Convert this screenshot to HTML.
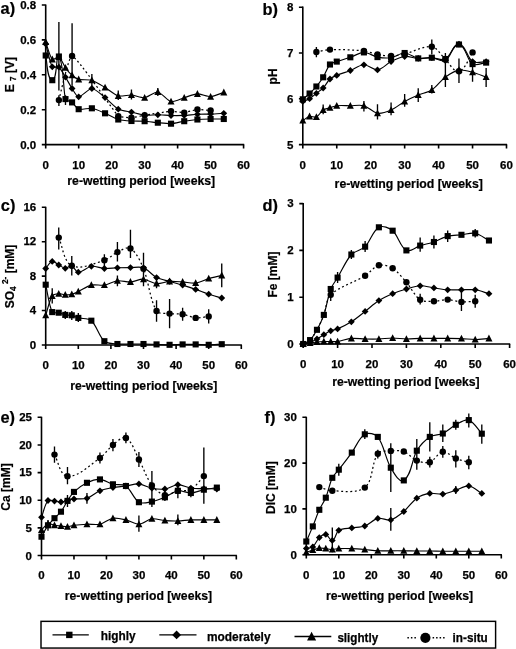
<!DOCTYPE html>
<html lang="en"><head><meta charset="utf-8"><title>Re-wetting period time series (panels a-f)</title>
<style>html,body{margin:0;padding:0;background:#fff}svg{display:block}text{fill:#000}</style>
</head><body>
<svg width="516" height="649" viewBox="0 0 516 649">
<rect x="0" y="0" width="516" height="649" fill="#fff"/>
<g>
<g stroke="#000" stroke-width="1.6" fill="none" stroke-linecap="butt">
<path d="M45.7 4.4V144.6H244.18"/>
<path d="M45.7 144.6v3.9M78.68 144.6v3.9M111.66 144.6v3.9M144.64 144.6v3.9M177.62 144.6v3.9M210.6 144.6v3.9M243.58 144.6v3.9M45.7 144.6h-3.9M45.7 109.7h-3.9M45.7 74.8h-3.9M45.7 39.9h-3.9M45.7 5h-3.9"/>
</g>
<g font-family='"Liberation Sans", Arial, Helvetica, sans-serif' font-weight="bold" font-size="11.5" fill="#000" stroke="#000" stroke-width="0.25">
<g text-anchor="middle">
<text x="45.7" y="168.55">0</text>
<text x="78.68" y="168.55">10</text>
<text x="111.66" y="168.55">20</text>
<text x="144.64" y="168.55">30</text>
<text x="177.62" y="168.55">40</text>
<text x="210.6" y="168.55">50</text>
<text x="243.58" y="168.55">60</text>
</g>
<g text-anchor="end">
<text x="36.2" y="148.6">0.0</text>
<text x="36.2" y="113.57">0.2</text>
<text x="36.2" y="78.55">0.4</text>
<text x="36.2" y="43.53">0.6</text>
<text x="36.2" y="8.5">0.8</text>
</g>
</g>
<text x="67.3" y="184.8" font-family='"Liberation Sans", Arial, Helvetica, sans-serif' font-weight="bold" font-size="12" stroke="#000" stroke-width="0.2" textLength="147.9" lengthAdjust="spacingAndGlyphs">re-wetting period [weeks]</text>
<text x="0.6" y="14.3" font-family='"Liberation Sans", Arial, Helvetica, sans-serif' font-weight="bold" font-size="16.4" stroke="#000" stroke-width="0.2">a)</text>
<text transform="translate(14 74.65) rotate(-90)" text-anchor="middle" font-family='"Liberation Sans", Arial, Helvetica, sans-serif' font-weight="bold" font-size="12" stroke="#000" stroke-width="0.2">E <tspan font-size="8.3" dy="1.5">7</tspan><tspan dy="-1.5"> [V]</tspan></text>
<path d="M58.89 22V90.4M58.89 95.3V106M72.08 23.2V85.6M65.49 95.3V105M91.87 74V86.5M118.26 90.4V100.1M131.45 89.5V99.5M157.83 88V96" stroke="#000" stroke-width="1.35" fill="none"/>
<path d="M58.89 100.1C59.84 96.92 68.88 55.03 72.08 55.9C77.36 57.33 114.47 112.25 118.26 116.2C118.92 116.89 130.49 117.84 131.45 117.8C132.42 117.76 143.69 115.36 144.64 115.2C146.54 114.88 169.11 111.33 171.02 111.2C171.98 111.14 183.26 112.67 184.22 112.6C185.19 112.53 196.43 109.48 197.41 109.4C198.36 109.32 209.65 110.42 210.6 110.5" stroke="#000" stroke-width="1.25" fill="none" stroke-dasharray="1.9 2.6"/>
<g fill="#000"><circle cx="58.89" cy="100.1" r="3.2"/><circle cx="72.08" cy="55.9" r="3.2"/><circle cx="118.26" cy="116.2" r="3.2"/><circle cx="131.45" cy="117.8" r="3.2"/><circle cx="144.64" cy="115.2" r="3.2"/><circle cx="171.02" cy="111.2" r="3.2"/><circle cx="184.22" cy="112.6" r="3.2"/><circle cx="197.41" cy="109.4" r="3.2"/><circle cx="210.6" cy="110.5" r="3.2"/></g>
<path d="M45.7 42C47.09 45.65 49.72 56.47 52.3 59.4C53.27 60.51 57.65 56.21 58.89 57C61.13 58.43 63.93 65.64 65.49 67.8C66.71 69.5 70.51 73.91 72.08 75.3C73.31 76.38 77.1 79.01 78.68 79.4C81.37 80.07 89.22 79.39 91.87 80.2C94.9 81.13 102.34 85.88 105.06 87.5C107.89 89.18 115.1 95 118.26 95.9C120.93 96.66 128.68 94.81 131.45 95C134.27 95.19 141.83 98.02 144.64 97.7C147.64 97.36 154.85 91.56 157.83 92C161.22 92.5 167.68 100.88 171.02 101.6C173.85 102.21 181.44 98.51 184.22 97.7C186.98 96.89 194.53 94.01 197.41 93.9C200.24 93.79 207.77 96.86 210.6 96.7C213.51 96.53 221.02 93.3 223.79 92.4" stroke="#000" stroke-width="1.15" fill="none" stroke-linejoin="round"/>
<g fill="#000"><path d="M45.7 38.2L49.2 45L42.2 45Z"/><path d="M52.3 55.6L55.8 62.4L48.8 62.4Z"/><path d="M58.89 53.2L62.39 60L55.39 60Z"/><path d="M65.49 64L68.99 70.8L61.99 70.8Z"/><path d="M72.08 71.5L75.58 78.3L68.58 78.3Z"/><path d="M78.68 75.6L82.18 82.4L75.18 82.4Z"/><path d="M91.87 76.4L95.37 83.2L88.37 83.2Z"/><path d="M105.06 83.7L108.56 90.5L101.56 90.5Z"/><path d="M118.26 92.1L121.76 98.9L114.76 98.9Z"/><path d="M131.45 91.2L134.95 98L127.95 98Z"/><path d="M144.64 93.9L148.14 100.7L141.14 100.7Z"/><path d="M157.83 88.2L161.33 95L154.33 95Z"/><path d="M171.02 97.8L174.52 104.6L167.52 104.6Z"/><path d="M184.22 93.9L187.72 100.7L180.72 100.7Z"/><path d="M197.41 90.1L200.91 96.9L193.91 96.9Z"/><path d="M210.6 92.9L214.1 99.7L207.1 99.7Z"/><path d="M223.79 88.6L227.29 95.4L220.29 95.4Z"/></g>
<path d="M45.7 43.9C47.09 48.71 49.83 62.45 52.3 66.8C52.98 68.01 57.8 66.34 58.89 67.2C60.87 68.76 64.16 75.06 65.49 77.2C66.93 79.54 70.55 86.22 72.08 88.5C73.33 90.35 76.45 96.8 78.68 96.8C81.95 96.8 88.6 88.4 91.87 88.5C95.24 88.6 102.42 95.52 105.06 97.6C107.97 99.88 115.02 107.42 118.26 109.2C120.74 110.57 128.68 111.47 131.45 112.1C134.22 112.73 141.81 114.91 144.64 115.2C147.4 115.48 155.06 114.77 157.83 114.8C160.61 114.83 168.25 115.44 171.02 115.5C173.79 115.56 181.45 115.53 184.22 115.4C186.99 115.27 194.63 114.44 197.41 114.3C200.18 114.16 207.83 114.2 210.6 114.1C213.37 113.99 221.02 113.47 223.79 113.3" stroke="#000" stroke-width="1.15" fill="none" stroke-linejoin="round"/>
<g fill="#000"><path d="M45.7 40.5L49.1 43.9L45.7 47.3L42.3 43.9Z"/><path d="M52.3 63.4L55.7 66.8L52.3 70.2L48.9 66.8Z"/><path d="M58.89 63.8L62.29 67.2L58.89 70.6L55.49 67.2Z"/><path d="M65.49 73.8L68.89 77.2L65.49 80.6L62.09 77.2Z"/><path d="M72.08 85.1L75.48 88.5L72.08 91.9L68.68 88.5Z"/><path d="M78.68 93.4L82.08 96.8L78.68 100.2L75.28 96.8Z"/><path d="M91.87 85.1L95.27 88.5L91.87 91.9L88.47 88.5Z"/><path d="M105.06 94.2L108.46 97.6L105.06 101L101.66 97.6Z"/><path d="M118.26 105.8L121.66 109.2L118.26 112.6L114.86 109.2Z"/><path d="M131.45 108.7L134.85 112.1L131.45 115.5L128.05 112.1Z"/><path d="M144.64 111.8L148.04 115.2L144.64 118.6L141.24 115.2Z"/><path d="M157.83 111.4L161.23 114.8L157.83 118.2L154.43 114.8Z"/><path d="M171.02 112.1L174.42 115.5L171.02 118.9L167.62 115.5Z"/><path d="M184.22 112L187.62 115.4L184.22 118.8L180.82 115.4Z"/><path d="M197.41 110.9L200.81 114.3L197.41 117.7L194.01 114.3Z"/><path d="M210.6 110.7L214 114.1L210.6 117.5L207.2 114.1Z"/><path d="M223.79 109.9L227.19 113.3L223.79 116.7L220.39 113.3Z"/></g>
<path d="M45.7 55.5C47.09 60.69 46.94 79.79 52.3 80.2C57.45 80.59 55.94 52.26 58.89 56.5C64.07 63.92 62.99 90.4 65.49 99.1C65.92 100.59 70.85 101.46 72.08 102.4C73.66 103.61 76.77 108.63 78.68 109.2C81.34 109.99 89.13 107.87 91.87 108.3C94.8 108.75 102.34 112.14 105.06 113.3C107.88 114.5 115.32 118.64 118.26 119.5C120.93 120.28 128.67 120.82 131.45 121C134.21 121.18 141.88 121.02 144.64 121.2C147.42 121.38 155.06 122.44 157.83 122.7C160.6 122.96 168.25 123.86 171.02 123.7C173.84 123.54 181.43 121.64 184.22 121.2C186.97 120.76 194.62 119.73 197.41 119.5C200.17 119.27 207.83 119.05 210.6 119C213.37 118.95 221.02 119 223.79 119" stroke="#000" stroke-width="1.15" fill="none" stroke-linejoin="round"/>
<g fill="#000"><rect x="42.65" y="52.45" width="6.1" height="6.1"/><rect x="49.25" y="77.15" width="6.1" height="6.1"/><rect x="55.84" y="53.45" width="6.1" height="6.1"/><rect x="62.44" y="96.05" width="6.1" height="6.1"/><rect x="69.03" y="99.35" width="6.1" height="6.1"/><rect x="75.63" y="106.15" width="6.1" height="6.1"/><rect x="88.82" y="105.25" width="6.1" height="6.1"/><rect x="102.01" y="110.25" width="6.1" height="6.1"/><rect x="115.21" y="116.45" width="6.1" height="6.1"/><rect x="128.4" y="117.95" width="6.1" height="6.1"/><rect x="141.59" y="118.15" width="6.1" height="6.1"/><rect x="154.78" y="119.65" width="6.1" height="6.1"/><rect x="167.97" y="120.65" width="6.1" height="6.1"/><rect x="181.17" y="118.15" width="6.1" height="6.1"/><rect x="194.36" y="116.45" width="6.1" height="6.1"/><rect x="207.55" y="115.95" width="6.1" height="6.1"/><rect x="220.74" y="115.95" width="6.1" height="6.1"/></g>
</g>
<g>
<g stroke="#000" stroke-width="1.6" fill="none" stroke-linecap="butt">
<path d="M302.8 6.6V144.6H507.1"/>
<path d="M302.8 144.6v3.9M336.75 144.6v3.9M370.7 144.6v3.9M404.65 144.6v3.9M438.6 144.6v3.9M472.55 144.6v3.9M506.5 144.6v3.9M302.8 144.6h-3.9M302.8 98.8h-3.9M302.8 53h-3.9M302.8 7.2h-3.9"/>
</g>
<g font-family='"Liberation Sans", Arial, Helvetica, sans-serif' font-weight="bold" font-size="11.5" fill="#000" stroke="#000" stroke-width="0.25">
<g text-anchor="middle">
<text x="302.8" y="168.55">0</text>
<text x="336.75" y="168.55">10</text>
<text x="370.7" y="168.55">20</text>
<text x="404.65" y="168.55">30</text>
<text x="438.6" y="168.55">40</text>
<text x="472.55" y="168.55">50</text>
<text x="506.5" y="168.55">60</text>
</g>
<g text-anchor="end">
<text x="293.3" y="148.6">5</text>
<text x="293.3" y="102.63">6</text>
<text x="293.3" y="56.67">7</text>
<text x="293.3" y="10.7">8</text>
</g>
</g>
<text x="334.6" y="187.7" font-family='"Liberation Sans", Arial, Helvetica, sans-serif' font-weight="bold" font-size="12" stroke="#000" stroke-width="0.2" textLength="148.3" lengthAdjust="spacingAndGlyphs">re-wetting period [weeks]</text>
<text x="262.6" y="14.5" font-family='"Liberation Sans", Arial, Helvetica, sans-serif' font-weight="bold" font-size="16.4" stroke="#000" stroke-width="0.2">b)</text>
<text transform="translate(276.5 76.4) rotate(-90)" text-anchor="middle" font-family='"Liberation Sans", Arial, Helvetica, sans-serif' font-weight="bold" font-size="12" stroke="#000" stroke-width="0.2">pH</text>
<path d="M316.38 47V57.3M323.17 104.6V114.2M363.91 101V111.4M377.49 104.2V119.5M391.07 102.5V115.3M404.65 94V106.8M418.23 88.2V102M431.81 85V93.5M445.39 68V87M472.55 62.6V81.8M486.13 68V87M431.81 39.6V54M458.97 58.4V83M445.39 53V70" stroke="#000" stroke-width="1.35" fill="none"/>
<path d="M316.38 52C320.45 51.28 325.82 49.7 329.96 49.6C340.15 49.36 353.77 49.85 363.91 50.9C368.1 51.33 373.35 53.72 377.49 54.5C381.52 55.26 386.97 56.08 391.07 56C395.19 55.92 400.64 54.92 404.65 54C412.88 52.12 423.45 45.57 431.81 46.7C437.36 47.45 441.23 55.75 445.39 59.5C449.38 63.1 453.77 72.56 458.97 71.2C465.7 69.44 468.48 58.04 472.55 52.4" stroke="#000" stroke-width="1.25" fill="none" stroke-dasharray="1.9 2.6"/>
<g fill="#000"><circle cx="316.38" cy="52" r="3.2"/><circle cx="329.96" cy="49.6" r="3.2"/><circle cx="363.91" cy="50.9" r="3.2"/><circle cx="377.49" cy="54.5" r="3.2"/><circle cx="391.07" cy="56" r="3.2"/><circle cx="404.65" cy="54" r="3.2"/><circle cx="431.81" cy="46.7" r="3.2"/><circle cx="445.39" cy="59.5" r="3.2"/><circle cx="458.97" cy="71.2" r="3.2"/><circle cx="472.55" cy="52.4" r="3.2"/></g>
<path d="M302.8 120.6C304.84 119.34 307.27 117.01 309.59 116.4C311.57 115.88 314.53 117.87 316.38 117C319.03 115.75 320.75 111.64 323.17 110C324.94 108.8 327.92 108.45 329.96 107.8C331.99 107.16 334.63 105.92 336.75 105.7C340.8 105.28 346.26 105.7 350.33 105.7C354.4 105.7 359.98 104.62 363.91 105.7C368.4 106.94 372.89 112.47 377.49 113.2C381.62 113.85 387.23 111.66 391.07 110C395.48 108.1 400.44 103.82 404.65 101.5C408.6 99.32 414.07 96.76 418.23 95C422.23 93.31 428.19 92.39 431.81 90C436.5 86.91 440.86 80.42 445.39 77.1C449.09 74.39 454.46 70.91 458.97 70.1C463.03 69.37 468.56 71.17 472.55 72.2C476.74 73.28 482.06 75.63 486.13 77.1" stroke="#000" stroke-width="1.15" fill="none" stroke-linejoin="round"/>
<g fill="#000"><path d="M302.8 116.8L306.3 123.6L299.3 123.6Z"/><path d="M309.59 112.6L313.09 119.4L306.09 119.4Z"/><path d="M316.38 113.2L319.88 120L312.88 120Z"/><path d="M323.17 106.2L326.67 113L319.67 113Z"/><path d="M329.96 104L333.46 110.8L326.46 110.8Z"/><path d="M336.75 101.9L340.25 108.7L333.25 108.7Z"/><path d="M350.33 101.9L353.83 108.7L346.83 108.7Z"/><path d="M363.91 101.9L367.41 108.7L360.41 108.7Z"/><path d="M377.49 109.4L380.99 116.2L373.99 116.2Z"/><path d="M391.07 106.2L394.57 113L387.57 113Z"/><path d="M404.65 97.7L408.15 104.5L401.15 104.5Z"/><path d="M418.23 91.2L421.73 98L414.73 98Z"/><path d="M431.81 86.2L435.31 93L428.31 93Z"/><path d="M445.39 73.3L448.89 80.1L441.89 80.1Z"/><path d="M458.97 66.3L462.47 73.1L455.47 73.1Z"/><path d="M472.55 68.4L476.05 75.2L469.05 75.2Z"/><path d="M486.13 73.3L489.63 80.1L482.63 80.1Z"/></g>
<path d="M302.8 101.4C304.84 100.59 307.71 99.82 309.59 98.7C311.83 97.37 314.34 94.91 316.38 93.3C318.41 91.7 321.39 89.87 323.17 88C325.5 85.55 327.48 81.3 329.96 79C331.65 77.43 334.62 76.29 336.75 75.4C340.75 73.73 346.3 72.07 350.33 70.5C354.45 68.89 359.49 64.9 363.91 64.8C368.26 64.7 373.17 70.41 377.49 69.9C382.23 69.34 386.79 63.71 391.07 61.6C394.97 59.67 400.33 57.01 404.65 56.5C408.74 56.02 414.12 58.22 418.23 58.4C422.31 58.58 427.74 57.39 431.81 57.7C435.96 58.02 441.67 62.36 445.39 60.5C451.1 57.64 452.59 43.84 458.97 44.1C465.61 44.37 466.96 58 472.55 61.6C475.97 63.81 482.06 61.6 486.13 61.6" stroke="#000" stroke-width="1.15" fill="none" stroke-linejoin="round"/>
<g fill="#000"><path d="M302.8 98L306.2 101.4L302.8 104.8L299.4 101.4Z"/><path d="M309.59 95.3L312.99 98.7L309.59 102.1L306.19 98.7Z"/><path d="M316.38 89.9L319.78 93.3L316.38 96.7L312.98 93.3Z"/><path d="M323.17 84.6L326.57 88L323.17 91.4L319.77 88Z"/><path d="M329.96 75.6L333.36 79L329.96 82.4L326.56 79Z"/><path d="M336.75 72L340.15 75.4L336.75 78.8L333.35 75.4Z"/><path d="M350.33 67.1L353.73 70.5L350.33 73.9L346.93 70.5Z"/><path d="M363.91 61.4L367.31 64.8L363.91 68.2L360.51 64.8Z"/><path d="M377.49 66.5L380.89 69.9L377.49 73.3L374.09 69.9Z"/><path d="M391.07 58.2L394.47 61.6L391.07 65L387.67 61.6Z"/><path d="M404.65 53.1L408.05 56.5L404.65 59.9L401.25 56.5Z"/><path d="M418.23 55L421.63 58.4L418.23 61.8L414.83 58.4Z"/><path d="M431.81 54.3L435.21 57.7L431.81 61.1L428.41 57.7Z"/><path d="M445.39 57.1L448.79 60.5L445.39 63.9L441.99 60.5Z"/><path d="M458.97 40.7L462.37 44.1L458.97 47.5L455.57 44.1Z"/><path d="M472.55 58.2L475.95 61.6L472.55 65L469.15 61.6Z"/><path d="M486.13 58.2L489.53 61.6L486.13 65L482.73 61.6Z"/></g>
<path d="M302.8 99.3C304.84 97.56 307.64 95.34 309.59 93.5C311.72 91.49 314.5 88.74 316.38 86.5C318.58 83.87 321.37 80.22 323.17 77.3C325.45 73.6 327.12 67.79 329.96 64.5C331.41 62.82 334.66 62.34 336.75 61.6C340.78 60.18 346.28 58.67 350.33 57.3C354.43 55.91 359.58 52.43 363.91 52.4C368.22 52.37 373.26 56.27 377.49 57.1C381.49 57.88 387.04 58.31 391.07 57.7C395.33 57.06 400.34 52.89 404.65 53C409.03 53.11 413.91 57.65 418.23 58.4C422.25 59.1 427.73 57.61 431.81 57.7C435.9 57.79 441.71 60.79 445.39 59C450.75 56.39 453.11 43.4 458.97 44.5C466 45.82 466.6 60.13 472.55 64.1C475.96 66.37 482.06 63.05 486.13 62.6" stroke="#000" stroke-width="1.15" fill="none" stroke-linejoin="round"/>
<g fill="#000"><rect x="299.75" y="96.25" width="6.1" height="6.1"/><rect x="306.54" y="90.45" width="6.1" height="6.1"/><rect x="313.33" y="83.45" width="6.1" height="6.1"/><rect x="320.12" y="74.25" width="6.1" height="6.1"/><rect x="326.91" y="61.45" width="6.1" height="6.1"/><rect x="333.7" y="58.55" width="6.1" height="6.1"/><rect x="347.28" y="54.25" width="6.1" height="6.1"/><rect x="360.86" y="49.35" width="6.1" height="6.1"/><rect x="374.44" y="54.05" width="6.1" height="6.1"/><rect x="388.02" y="54.65" width="6.1" height="6.1"/><rect x="401.6" y="49.95" width="6.1" height="6.1"/><rect x="415.18" y="55.35" width="6.1" height="6.1"/><rect x="428.76" y="54.65" width="6.1" height="6.1"/><rect x="442.34" y="55.95" width="6.1" height="6.1"/><rect x="455.92" y="41.45" width="6.1" height="6.1"/><rect x="469.5" y="61.05" width="6.1" height="6.1"/><rect x="483.08" y="59.55" width="6.1" height="6.1"/></g>
</g>
<g>
<g stroke="#000" stroke-width="1.6" fill="none" stroke-linecap="butt">
<path d="M45.7 206.7V345H241.9"/>
<path d="M45.7 345v3.9M78.3 345v3.9M110.9 345v3.9M143.5 345v3.9M176.1 345v3.9M208.7 345v3.9M241.3 345v3.9M45.7 345h-3.9M45.7 310.57h-3.9M45.7 276.15h-3.9M45.7 241.73h-3.9M45.7 207.3h-3.9"/>
</g>
<g font-family='"Liberation Sans", Arial, Helvetica, sans-serif' font-weight="bold" font-size="11.5" fill="#000" stroke="#000" stroke-width="0.25">
<g text-anchor="middle">
<text x="45.7" y="368.95">0</text>
<text x="78.3" y="368.95">10</text>
<text x="110.9" y="368.95">20</text>
<text x="143.5" y="368.95">30</text>
<text x="176.1" y="368.95">40</text>
<text x="208.7" y="368.95">50</text>
<text x="241.3" y="368.95">60</text>
</g>
<g text-anchor="end">
<text x="36.2" y="349">0</text>
<text x="36.2" y="314.45">4</text>
<text x="36.2" y="279.9">8</text>
<text x="36.2" y="245.35">12</text>
<text x="36.2" y="210.8">16</text>
</g>
</g>
<text x="70.2" y="390.2" font-family='"Liberation Sans", Arial, Helvetica, sans-serif' font-weight="bold" font-size="12" stroke="#000" stroke-width="0.2" textLength="147.2" lengthAdjust="spacingAndGlyphs">re-wetting period [weeks]</text>
<text x="0.8" y="210.9" font-family='"Liberation Sans", Arial, Helvetica, sans-serif' font-weight="bold" font-size="16.4" stroke="#000" stroke-width="0.2">c)</text>
<text transform="translate(14.3 276.5) rotate(-90)" text-anchor="middle" font-family='"Liberation Sans", Arial, Helvetica, sans-serif' font-weight="bold" font-size="12" stroke="#000" stroke-width="0.2">SO<tspan font-size="8.3" dy="1.5">4</tspan><tspan font-size="8.3" dy="-7.5"> 2-</tspan><tspan dy="6"> [mM]</tspan></text>
<path d="M58.74 227.5V249.5M71.78 256V275.4M104.38 254.3V266.8M117.42 242V261.4M130.46 229.7V258.1M143.5 252.7V284M156.54 300.2V321.8M169.58 299.1V328.2M182.62 307.8V320.7M208.7 309.3V323.5M52.22 288.3V303.4M117.42 275.4V286.2M143.5 274.3V286.2M221.74 263.5V287.3M156.54 278.6V288.3M65.26 311V319M71.78 311V320M78.3 313V322" stroke="#000" stroke-width="1.35" fill="none"/>
<path d="M58.74 237.6C62.65 246.03 63.46 261.56 71.78 265.7C80.66 270.11 94.88 263.13 104.38 260.3C108.81 258.98 113.22 254.02 117.42 252.1C121.12 250.41 127.03 246.22 130.46 248.4C136.57 252.29 140.72 262.02 143.5 268.7C148.61 280.96 149.87 299.52 156.54 311C158.54 314.45 165.62 313.11 169.58 313.6C173.47 314.08 178.76 313.56 182.62 314.2C186.63 314.86 191.61 317.56 195.66 317.9C199.58 318.23 204.79 316.85 208.7 316.4" stroke="#000" stroke-width="1.25" fill="none" stroke-dasharray="1.9 2.6"/>
<g fill="#000"><circle cx="58.74" cy="237.6" r="3.2"/><circle cx="71.78" cy="265.7" r="3.2"/><circle cx="104.38" cy="260.3" r="3.2"/><circle cx="117.42" cy="252.1" r="3.2"/><circle cx="130.46" cy="248.4" r="3.2"/><circle cx="143.5" cy="268.7" r="3.2"/><circle cx="156.54" cy="311" r="3.2"/><circle cx="169.58" cy="313.6" r="3.2"/><circle cx="182.62" cy="314.2" r="3.2"/><circle cx="195.66" cy="317.9" r="3.2"/><circle cx="208.7" cy="316.4" r="3.2"/></g>
<path d="M45.7 315.3C47.66 309.48 49.05 301.16 52.22 295.9C53.29 294.13 56.68 293.87 58.74 293.7C60.72 293.53 63.28 294.72 65.26 294.8C67.22 294.88 69.87 294.67 71.78 294.2C73.83 293.7 76.39 292.49 78.3 291.6C82.26 289.76 87.1 286.16 91.34 285.1C95.14 284.15 100.52 285.74 104.38 285.1C108.44 284.43 113.33 281.3 117.42 280.8C121.32 280.32 126.54 282.14 130.46 281.9C134.45 281.66 139.51 278.94 143.5 279.2C147.62 279.47 152.43 283.25 156.54 283.6C160.49 283.93 165.62 281.66 169.58 281.4C173.49 281.15 178.71 281.66 182.62 281.9C186.54 282.14 191.77 283.49 195.66 283C199.76 282.48 204.74 279.76 208.7 278.6C212.57 277.47 217.83 276.36 221.74 275.4" stroke="#000" stroke-width="1.15" fill="none" stroke-linejoin="round"/>
<g fill="#000"><path d="M45.7 311.5L49.2 318.3L42.2 318.3Z"/><path d="M52.22 292.1L55.72 298.9L48.72 298.9Z"/><path d="M58.74 289.9L62.24 296.7L55.24 296.7Z"/><path d="M65.26 291L68.76 297.8L61.76 297.8Z"/><path d="M71.78 290.4L75.28 297.2L68.28 297.2Z"/><path d="M78.3 287.8L81.8 294.6L74.8 294.6Z"/><path d="M91.34 281.3L94.84 288.1L87.84 288.1Z"/><path d="M104.38 281.3L107.88 288.1L100.88 288.1Z"/><path d="M117.42 277L120.92 283.8L113.92 283.8Z"/><path d="M130.46 278.1L133.96 284.9L126.96 284.9Z"/><path d="M143.5 275.4L147 282.2L140 282.2Z"/><path d="M156.54 279.8L160.04 286.6L153.04 286.6Z"/><path d="M169.58 277.6L173.08 284.4L166.08 284.4Z"/><path d="M182.62 278.1L186.12 284.9L179.12 284.9Z"/><path d="M195.66 279.2L199.16 286L192.16 286Z"/><path d="M208.7 274.8L212.2 281.6L205.2 281.6Z"/><path d="M221.74 271.6L225.24 278.4L218.24 278.4Z"/></g>
<path d="M45.7 268.5C47.66 266.37 49.43 262.15 52.22 261.4C54.38 260.82 56.77 263.95 58.74 265C60.68 266.03 63.07 268.13 65.26 268.3C67.33 268.46 69.79 265.41 71.78 266C74.37 266.77 75.6 272.16 78.3 272.2C82.59 272.27 87.09 266.9 91.34 266.3C95.27 265.74 100.42 268.27 104.38 268.5C108.29 268.72 113.5 267.94 117.42 267.8C121.33 267.67 126.55 267.6 130.46 267.6C134.37 267.6 139.85 266.4 143.5 267.8C148.07 269.55 152.2 275.34 156.54 277.6C160.15 279.48 165.66 280.27 169.58 281.4C173.49 282.52 178.73 283.91 182.62 285.1C186.56 286.31 191.77 288.04 195.66 289.4C199.6 290.77 204.74 292.89 208.7 294.2C212.57 295.48 217.83 296.86 221.74 298" stroke="#000" stroke-width="1.15" fill="none" stroke-linejoin="round"/>
<g fill="#000"><path d="M45.7 265.1L49.1 268.5L45.7 271.9L42.3 268.5Z"/><path d="M52.22 258L55.62 261.4L52.22 264.8L48.82 261.4Z"/><path d="M58.74 261.6L62.14 265L58.74 268.4L55.34 265Z"/><path d="M65.26 264.9L68.66 268.3L65.26 271.7L61.86 268.3Z"/><path d="M71.78 262.6L75.18 266L71.78 269.4L68.38 266Z"/><path d="M78.3 268.8L81.7 272.2L78.3 275.6L74.9 272.2Z"/><path d="M91.34 262.9L94.74 266.3L91.34 269.7L87.94 266.3Z"/><path d="M104.38 265.1L107.78 268.5L104.38 271.9L100.98 268.5Z"/><path d="M117.42 264.4L120.82 267.8L117.42 271.2L114.02 267.8Z"/><path d="M130.46 264.2L133.86 267.6L130.46 271L127.06 267.6Z"/><path d="M143.5 264.4L146.9 267.8L143.5 271.2L140.1 267.8Z"/><path d="M156.54 274.2L159.94 277.6L156.54 281L153.14 277.6Z"/><path d="M169.58 278L172.98 281.4L169.58 284.8L166.18 281.4Z"/><path d="M182.62 281.7L186.02 285.1L182.62 288.5L179.22 285.1Z"/><path d="M195.66 286L199.06 289.4L195.66 292.8L192.26 289.4Z"/><path d="M208.7 290.8L212.1 294.2L208.7 297.6L205.3 294.2Z"/><path d="M221.74 294.6L225.14 298L221.74 301.4L218.34 298Z"/></g>
<path d="M45.7 284.7C47.66 292.92 48.65 304.44 52.22 312.1C53.05 313.88 56.82 312.29 58.74 312.7C60.76 313.13 63.24 314.5 65.26 314.9C67.18 315.28 69.87 314.86 71.78 315.3C73.83 315.77 76.27 317.34 78.3 317.9C82.16 318.96 88.36 318.03 91.34 320.7C96.78 325.56 98.94 336.34 104.38 341.2C107.36 343.87 113.44 343.57 117.42 344C121.31 344.42 126.55 344 130.46 344C134.37 344 139.59 343.94 143.5 344C147.41 344.06 152.63 344.28 156.54 344.4C160.45 344.52 165.67 344.8 169.58 344.8C173.49 344.8 178.71 344.46 182.62 344.4C186.53 344.34 191.75 344.34 195.66 344.4C199.57 344.46 204.79 344.83 208.7 344.8C212.62 344.77 217.83 344.38 221.74 344.2" stroke="#000" stroke-width="1.15" fill="none" stroke-linejoin="round"/>
<g fill="#000"><rect x="42.65" y="281.65" width="6.1" height="6.1"/><rect x="49.17" y="309.05" width="6.1" height="6.1"/><rect x="55.69" y="309.65" width="6.1" height="6.1"/><rect x="62.21" y="311.85" width="6.1" height="6.1"/><rect x="68.73" y="312.25" width="6.1" height="6.1"/><rect x="75.25" y="314.85" width="6.1" height="6.1"/><rect x="88.29" y="317.65" width="6.1" height="6.1"/><rect x="101.33" y="338.15" width="6.1" height="6.1"/><rect x="114.37" y="340.95" width="6.1" height="6.1"/><rect x="127.41" y="340.95" width="6.1" height="6.1"/><rect x="140.45" y="340.95" width="6.1" height="6.1"/><rect x="153.49" y="341.35" width="6.1" height="6.1"/><rect x="166.53" y="341.75" width="6.1" height="6.1"/><rect x="179.57" y="341.35" width="6.1" height="6.1"/><rect x="192.61" y="341.35" width="6.1" height="6.1"/><rect x="205.65" y="341.75" width="6.1" height="6.1"/><rect x="218.69" y="341.15" width="6.1" height="6.1"/></g>
</g>
<g>
<g stroke="#000" stroke-width="1.6" fill="none" stroke-linecap="butt">
<path d="M303.2 203V344H510.2"/>
<path d="M303.2 344v3.9M337.6 344v3.9M372 344v3.9M406.4 344v3.9M440.8 344v3.9M475.2 344v3.9M509.6 344v3.9M303.2 344h-3.9M303.2 297.2h-3.9M303.2 250.4h-3.9M303.2 203.6h-3.9"/>
</g>
<g font-family='"Liberation Sans", Arial, Helvetica, sans-serif' font-weight="bold" font-size="11.5" fill="#000" stroke="#000" stroke-width="0.25">
<g text-anchor="middle">
<text x="303.2" y="367.95">0</text>
<text x="337.6" y="367.95">10</text>
<text x="372" y="367.95">20</text>
<text x="406.4" y="367.95">30</text>
<text x="440.8" y="367.95">40</text>
<text x="475.2" y="367.95">50</text>
<text x="509.6" y="367.95">60</text>
</g>
<g text-anchor="end">
<text x="293.7" y="348">0</text>
<text x="293.7" y="301.03">1</text>
<text x="293.7" y="254.07">2</text>
<text x="293.7" y="207.1">3</text>
</g>
</g>
<text x="332.2" y="386.2" font-family='"Liberation Sans", Arial, Helvetica, sans-serif' font-weight="bold" font-size="12" stroke="#000" stroke-width="0.2" textLength="147.5" lengthAdjust="spacingAndGlyphs">re-wetting period [weeks]</text>
<text x="262.6" y="211.2" font-family='"Liberation Sans", Arial, Helvetica, sans-serif' font-weight="bold" font-size="16.4" stroke="#000" stroke-width="0.2">d)</text>
<text transform="translate(277.3 274.6) rotate(-90)" text-anchor="middle" font-family='"Liberation Sans", Arial, Helvetica, sans-serif' font-weight="bold" font-size="12" stroke="#000" stroke-width="0.2">Fe [mM]</text>
<path d="M420.16 237.6V251.7M433.92 235.5V248.4M447.68 230.5V242M475.2 229V237.6M420.16 293.7V304.5M461.44 289.4V311M475.2 294.8V307.8M330.72 288V301M337.6 272V283M351.36 250V259M365.12 241V252" stroke="#000" stroke-width="1.35" fill="none"/>
<path d="M303.2 344C305.26 342.83 308.43 341.8 310.08 340.1C312.67 337.43 315.18 333.06 316.96 329.8C319.32 325.48 322.04 319.48 323.84 314.9C326.17 308.97 326.09 299.18 330.72 294.8C339.28 286.69 355.07 281.96 365.12 275.8C369.55 273.09 373.87 266.67 378.88 265.3C382.96 264.19 389.05 266.08 392.64 268.3C397.65 271.39 402.53 277.87 406.4 282.3C410.79 287.33 414.66 296.01 420.16 299.8C423.58 302.16 429.77 301.33 433.92 301.3C438.08 301.27 443.52 299.51 447.68 299.6C451.86 299.69 457.26 301.64 461.44 301.9C465.56 302.15 471.07 301.48 475.2 301.3" stroke="#000" stroke-width="1.25" fill="none" stroke-dasharray="1.9 2.6"/>
<g fill="#000"><circle cx="303.2" cy="344" r="3.2"/><circle cx="330.72" cy="294.8" r="3.2"/><circle cx="365.12" cy="275.8" r="3.2"/><circle cx="378.88" cy="265.3" r="3.2"/><circle cx="392.64" cy="268.3" r="3.2"/><circle cx="406.4" cy="282.3" r="3.2"/><circle cx="420.16" cy="299.8" r="3.2"/><circle cx="433.92" cy="301.3" r="3.2"/><circle cx="447.68" cy="299.6" r="3.2"/><circle cx="461.44" cy="301.9" r="3.2"/><circle cx="475.2" cy="301.3" r="3.2"/></g>
<path d="M303.2 344C305.26 343.7 308.02 343.3 310.08 343C312.14 342.7 314.89 342.23 316.96 342C319.02 341.78 321.77 341.58 323.84 341.5C325.9 341.43 328.66 341.5 330.72 341.5C332.78 341.5 335.56 341.81 337.6 341.5C341.78 340.87 347.15 338.78 351.36 338.4C355.47 338.03 360.99 338.91 365.12 339C369.25 339.09 374.75 339.15 378.88 339C383.02 338.85 388.5 338 392.64 338C396.78 338 402.26 338.94 406.4 339C410.53 339.06 416.03 338.49 420.16 338.4C424.29 338.31 429.79 338.4 433.92 338.4C438.05 338.4 443.55 338.37 447.68 338.4C451.81 338.43 457.31 338.44 461.44 338.6C465.57 338.77 471.06 339.53 475.2 339.5C479.34 339.47 484.83 338.73 488.96 338.4" stroke="#000" stroke-width="1.15" fill="none" stroke-linejoin="round"/>
<g fill="#000"><path d="M303.2 340.2L306.7 347L299.7 347Z"/><path d="M310.08 339.2L313.58 346L306.58 346Z"/><path d="M316.96 338.2L320.46 345L313.46 345Z"/><path d="M323.84 337.7L327.34 344.5L320.34 344.5Z"/><path d="M330.72 337.7L334.22 344.5L327.22 344.5Z"/><path d="M337.6 337.7L341.1 344.5L334.1 344.5Z"/><path d="M351.36 334.6L354.86 341.4L347.86 341.4Z"/><path d="M365.12 335.2L368.62 342L361.62 342Z"/><path d="M378.88 335.2L382.38 342L375.38 342Z"/><path d="M392.64 334.2L396.14 341L389.14 341Z"/><path d="M406.4 335.2L409.9 342L402.9 342Z"/><path d="M420.16 334.6L423.66 341.4L416.66 341.4Z"/><path d="M433.92 334.6L437.42 341.4L430.42 341.4Z"/><path d="M447.68 334.6L451.18 341.4L444.18 341.4Z"/><path d="M461.44 334.8L464.94 341.6L457.94 341.6Z"/><path d="M475.2 335.7L478.7 342.5L471.7 342.5Z"/><path d="M488.96 334.6L492.46 341.4L485.46 341.4Z"/></g>
<path d="M303.2 344C305.26 343.49 308.08 343.03 310.08 342.3C312.23 341.52 314.96 340.11 316.96 339C319.09 337.82 321.75 335.95 323.84 334.7C325.88 333.49 328.53 331.72 330.72 330.8C332.69 329.97 335.64 329.76 337.6 328.9C341.86 327.04 347.44 324.29 351.36 321.8C355.73 319.02 361.02 314.56 365.12 311.4C369.28 308.2 374.47 303.44 378.88 300.6C382.76 298.1 388.38 295.49 392.64 293.7C396.66 292.01 402.21 290.2 406.4 289C410.47 287.83 415.93 285.97 420.16 285.8C424.33 285.63 429.79 287.3 433.92 287.9C438.04 288.5 443.52 289.51 447.68 289.8C451.8 290.08 457.31 289.8 461.44 289.8C465.57 289.8 471.11 289.22 475.2 289.8C479.45 290.4 484.83 292.53 488.96 293.7" stroke="#000" stroke-width="1.15" fill="none" stroke-linejoin="round"/>
<g fill="#000"><path d="M303.2 340.6L306.6 344L303.2 347.4L299.8 344Z"/><path d="M310.08 338.9L313.48 342.3L310.08 345.7L306.68 342.3Z"/><path d="M316.96 335.6L320.36 339L316.96 342.4L313.56 339Z"/><path d="M323.84 331.3L327.24 334.7L323.84 338.1L320.44 334.7Z"/><path d="M330.72 327.4L334.12 330.8L330.72 334.2L327.32 330.8Z"/><path d="M337.6 325.5L341 328.9L337.6 332.3L334.2 328.9Z"/><path d="M351.36 318.4L354.76 321.8L351.36 325.2L347.96 321.8Z"/><path d="M365.12 308L368.52 311.4L365.12 314.8L361.72 311.4Z"/><path d="M378.88 297.2L382.28 300.6L378.88 304L375.48 300.6Z"/><path d="M392.64 290.3L396.04 293.7L392.64 297.1L389.24 293.7Z"/><path d="M406.4 285.6L409.8 289L406.4 292.4L403 289Z"/><path d="M420.16 282.4L423.56 285.8L420.16 289.2L416.76 285.8Z"/><path d="M433.92 284.5L437.32 287.9L433.92 291.3L430.52 287.9Z"/><path d="M447.68 286.4L451.08 289.8L447.68 293.2L444.28 289.8Z"/><path d="M461.44 286.4L464.84 289.8L461.44 293.2L458.04 289.8Z"/><path d="M475.2 286.4L478.6 289.8L475.2 293.2L471.8 289.8Z"/><path d="M488.96 290.3L492.36 293.7L488.96 297.1L485.56 293.7Z"/></g>
<path d="M303.2 344C305.26 342.83 308.43 341.8 310.08 340.1C312.67 337.43 315.18 333.06 316.96 329.8C319.32 325.48 322.27 319.57 323.84 314.9C326.41 307.28 327.94 296.54 330.72 289C332.1 285.25 335.55 281.03 337.6 277.6C341.74 270.68 346 260.52 351.36 254.5C354.52 250.96 361.75 250.04 365.12 246.7C370.19 241.68 372.71 230.89 378.88 227.3C382.56 225.16 389.38 227.97 392.64 230.7C398.16 235.33 400.06 246.97 406.4 250.4C410.24 252.48 415.98 246.88 420.16 245.6C424.24 244.35 429.89 243.39 433.92 242C438.17 240.53 443.33 237.24 447.68 236.1C451.69 235.05 457.31 235.22 461.44 234.8C465.57 234.38 471.13 232.46 475.2 233.3C479.76 234.24 484.83 238.34 488.96 240.5" stroke="#000" stroke-width="1.15" fill="none" stroke-linejoin="round"/>
<g fill="#000"><rect x="300.15" y="340.95" width="6.1" height="6.1"/><rect x="307.03" y="337.05" width="6.1" height="6.1"/><rect x="313.91" y="326.75" width="6.1" height="6.1"/><rect x="320.79" y="311.85" width="6.1" height="6.1"/><rect x="327.67" y="285.95" width="6.1" height="6.1"/><rect x="334.55" y="274.55" width="6.1" height="6.1"/><rect x="348.31" y="251.45" width="6.1" height="6.1"/><rect x="362.07" y="243.65" width="6.1" height="6.1"/><rect x="375.83" y="224.25" width="6.1" height="6.1"/><rect x="389.59" y="227.65" width="6.1" height="6.1"/><rect x="403.35" y="247.35" width="6.1" height="6.1"/><rect x="417.11" y="242.55" width="6.1" height="6.1"/><rect x="430.87" y="238.95" width="6.1" height="6.1"/><rect x="444.63" y="233.05" width="6.1" height="6.1"/><rect x="458.39" y="231.75" width="6.1" height="6.1"/><rect x="472.15" y="230.25" width="6.1" height="6.1"/><rect x="485.91" y="237.45" width="6.1" height="6.1"/></g>
</g>
<g>
<g stroke="#000" stroke-width="1.6" fill="none" stroke-linecap="butt">
<path d="M41.5 416.7V555.5H236.92"/>
<path d="M41.5 555.5v3.9M73.97 555.5v3.9M106.44 555.5v3.9M138.91 555.5v3.9M171.38 555.5v3.9M203.85 555.5v3.9M236.32 555.5v3.9M41.5 555.5h-3.9M41.5 527.86h-3.9M41.5 500.22h-3.9M41.5 472.58h-3.9M41.5 444.94h-3.9M41.5 417.3h-3.9"/>
</g>
<g font-family='"Liberation Sans", Arial, Helvetica, sans-serif' font-weight="bold" font-size="11.5" fill="#000" stroke="#000" stroke-width="0.25">
<g text-anchor="middle">
<text x="41.5" y="579.45">0</text>
<text x="73.97" y="579.45">10</text>
<text x="106.44" y="579.45">20</text>
<text x="138.91" y="579.45">30</text>
<text x="171.38" y="579.45">40</text>
<text x="203.85" y="579.45">50</text>
<text x="236.32" y="579.45">60</text>
</g>
<g text-anchor="end">
<text x="32" y="559.5">0</text>
<text x="32" y="531.76">5</text>
<text x="32" y="504.02">10</text>
<text x="32" y="476.28">15</text>
<text x="32" y="448.54">20</text>
<text x="32" y="420.8">25</text>
</g>
</g>
<text x="64.8" y="600.2" font-family='"Liberation Sans", Arial, Helvetica, sans-serif' font-weight="bold" font-size="12" stroke="#000" stroke-width="0.2" textLength="147.3" lengthAdjust="spacingAndGlyphs">re-wetting period [weeks]</text>
<text x="0.5" y="423" font-family='"Liberation Sans", Arial, Helvetica, sans-serif' font-weight="bold" font-size="16.4" stroke="#000" stroke-width="0.2">e)</text>
<text transform="translate(9.6 487) rotate(-90)" text-anchor="middle" font-family='"Liberation Sans", Arial, Helvetica, sans-serif' font-weight="bold" font-size="12" stroke="#000" stroke-width="0.2">Ca [mM]</text>
<path d="M54.49 446.6V462.7M67.48 467V484.3M99.95 452.6V463.4M112.93 439V451.3M125.92 432.5V443.3M138.91 452V467M151.9 471V507M203.85 447.6V503.7M86.96 493V503.7M67.48 495V507M138.91 515.6V531.8M47.99 520V530.7M177.87 514.5V525.3M177.87 484.3V498.3M190.86 486.5V497.3M164.89 490V501" stroke="#000" stroke-width="1.35" fill="none"/>
<path d="M54.49 454.6C58.38 461.11 59.91 475.73 67.48 476.3C78.63 477.13 90.74 464.34 99.95 458C104.49 454.87 108.57 448.36 112.93 445C116.44 442.3 122.06 435.84 125.92 438C132.5 441.67 135.29 452.89 138.91 459.5C143.09 467.12 146.77 478.38 151.9 485.4C154.76 489.33 160.12 494.11 164.89 495.1C168.9 495.94 173.86 491.66 177.87 490.8C181.7 489.97 187.45 491.43 190.86 489.5C195.73 486.74 199.95 480.12 203.85 476.1" stroke="#000" stroke-width="1.25" fill="none" stroke-dasharray="1.9 2.6"/>
<g fill="#000"><circle cx="54.49" cy="454.6" r="3.2"/><circle cx="67.48" cy="476.3" r="3.2"/><circle cx="99.95" cy="458" r="3.2"/><circle cx="112.93" cy="445" r="3.2"/><circle cx="125.92" cy="438" r="3.2"/><circle cx="138.91" cy="459.5" r="3.2"/><circle cx="151.9" cy="485.4" r="3.2"/><circle cx="164.89" cy="495.1" r="3.2"/><circle cx="177.87" cy="490.8" r="3.2"/><circle cx="190.86" cy="489.5" r="3.2"/><circle cx="203.85" cy="476.1" r="3.2"/></g>
<path d="M41.5 530C43.45 528.14 45.46 524.72 47.99 523.8C49.87 523.12 52.52 524.97 54.49 525.3C56.42 525.63 59.04 525.78 60.98 526C62.93 526.23 65.52 526.91 67.48 526.8C69.47 526.69 71.99 525.56 73.97 525.3C77.85 524.78 83.05 524.37 86.96 524.2C90.85 524.04 96.15 525.08 99.95 524.2C104.13 523.23 108.7 518.9 112.93 518.2C116.81 517.56 122.09 519.02 125.92 519.9C129.92 520.82 134.81 524.37 138.91 524.2C143.13 524.02 147.72 519.38 151.9 518.8C155.79 518.26 160.97 520.27 164.89 520.6C168.77 520.93 173.98 521.11 177.87 521C181.78 520.89 186.96 520.07 190.86 519.9C194.75 519.74 199.95 519.9 203.85 519.9C207.75 519.9 212.94 519.9 216.84 519.9" stroke="#000" stroke-width="1.15" fill="none" stroke-linejoin="round"/>
<g fill="#000"><path d="M41.5 526.2L45 533L38 533Z"/><path d="M47.99 520L51.49 526.8L44.49 526.8Z"/><path d="M54.49 521.5L57.99 528.3L50.99 528.3Z"/><path d="M60.98 522.2L64.48 529L57.48 529Z"/><path d="M67.48 523L70.98 529.8L63.98 529.8Z"/><path d="M73.97 521.5L77.47 528.3L70.47 528.3Z"/><path d="M86.96 520.4L90.46 527.2L83.46 527.2Z"/><path d="M99.95 520.4L103.45 527.2L96.45 527.2Z"/><path d="M112.93 514.4L116.43 521.2L109.43 521.2Z"/><path d="M125.92 516.1L129.42 522.9L122.42 522.9Z"/><path d="M138.91 520.4L142.41 527.2L135.41 527.2Z"/><path d="M151.9 515L155.4 521.8L148.4 521.8Z"/><path d="M164.89 516.8L168.39 523.6L161.39 523.6Z"/><path d="M177.87 517.2L181.37 524L174.37 524Z"/><path d="M190.86 516.1L194.36 522.9L187.36 522.9Z"/><path d="M203.85 516.1L207.35 522.9L200.35 522.9Z"/><path d="M216.84 516.1L220.34 522.9L213.34 522.9Z"/></g>
<path d="M41.5 517.3C43.45 512.26 44.61 504.72 47.99 500.5C49.22 498.97 52.54 500.88 54.49 501.1C56.44 501.33 59.02 502.09 60.98 502C62.98 501.91 65.53 500.95 67.48 500.5C69.42 500.05 71.98 499.22 73.97 499C77.85 498.56 83.24 499.47 86.96 498.3C91.25 496.95 95.79 492.51 99.95 490.8C103.66 489.27 108.99 488.33 112.93 487.6C116.79 486.89 122.04 486.55 125.92 486C129.83 485.44 134.98 483.57 138.91 483.9C143 484.25 147.87 487.41 151.9 488.2C155.73 488.95 161.02 489.52 164.89 489C168.95 488.45 173.77 484.83 177.87 484.7C181.91 484.58 186.87 487.6 190.86 488.2C194.72 488.78 199.95 488.48 203.85 488.6C207.75 488.72 212.94 488.88 216.84 489" stroke="#000" stroke-width="1.15" fill="none" stroke-linejoin="round"/>
<g fill="#000"><path d="M41.5 513.9L44.9 517.3L41.5 520.7L38.1 517.3Z"/><path d="M47.99 497.1L51.39 500.5L47.99 503.9L44.59 500.5Z"/><path d="M54.49 497.7L57.89 501.1L54.49 504.5L51.09 501.1Z"/><path d="M60.98 498.6L64.38 502L60.98 505.4L57.58 502Z"/><path d="M67.48 497.1L70.88 500.5L67.48 503.9L64.08 500.5Z"/><path d="M73.97 495.6L77.37 499L73.97 502.4L70.57 499Z"/><path d="M86.96 494.9L90.36 498.3L86.96 501.7L83.56 498.3Z"/><path d="M99.95 487.4L103.35 490.8L99.95 494.2L96.55 490.8Z"/><path d="M112.93 484.2L116.33 487.6L112.93 491L109.53 487.6Z"/><path d="M125.92 482.6L129.32 486L125.92 489.4L122.52 486Z"/><path d="M138.91 480.5L142.31 483.9L138.91 487.3L135.51 483.9Z"/><path d="M151.9 484.8L155.3 488.2L151.9 491.6L148.5 488.2Z"/><path d="M164.89 485.6L168.29 489L164.89 492.4L161.49 489Z"/><path d="M177.87 481.3L181.27 484.7L177.87 488.1L174.47 484.7Z"/><path d="M190.86 484.8L194.26 488.2L190.86 491.6L187.46 488.2Z"/><path d="M203.85 485.2L207.25 488.6L203.85 492L200.45 488.6Z"/><path d="M216.84 485.6L220.24 489L216.84 492.4L213.44 489Z"/></g>
<path d="M41.5 536.7C43.45 533.28 45.73 528.52 47.99 525.3C49.65 522.94 52.49 520.29 54.49 518.2C56.39 516.21 59.33 513.9 60.98 511.7C63.25 508.68 65.4 504.06 67.48 500.9C69.3 498.12 71.53 494.17 73.97 491.9C77.46 488.66 82.67 484.86 86.96 482.8C90.59 481.05 95.93 479.17 99.95 479.4C104.1 479.64 108.9 483.27 112.93 484.3C116.74 485.27 122.69 483.77 125.92 486C131.05 489.53 133.57 498.99 138.91 502.2C142.25 504.21 148.07 502.32 151.9 501.6C155.93 500.84 161.1 498.88 164.89 497.3C168.91 495.63 173.58 491.51 177.87 490.8C181.77 490.15 186.91 493.17 190.86 493C194.88 492.83 199.91 490.52 203.85 489.7C207.71 488.9 212.94 488.23 216.84 487.6" stroke="#000" stroke-width="1.15" fill="none" stroke-linejoin="round"/>
<g fill="#000"><rect x="38.45" y="533.65" width="6.1" height="6.1"/><rect x="44.94" y="522.25" width="6.1" height="6.1"/><rect x="51.44" y="515.15" width="6.1" height="6.1"/><rect x="57.93" y="508.65" width="6.1" height="6.1"/><rect x="64.43" y="497.85" width="6.1" height="6.1"/><rect x="70.92" y="488.85" width="6.1" height="6.1"/><rect x="83.91" y="479.75" width="6.1" height="6.1"/><rect x="96.9" y="476.35" width="6.1" height="6.1"/><rect x="109.88" y="481.25" width="6.1" height="6.1"/><rect x="122.87" y="482.95" width="6.1" height="6.1"/><rect x="135.86" y="499.15" width="6.1" height="6.1"/><rect x="148.85" y="498.55" width="6.1" height="6.1"/><rect x="161.84" y="494.25" width="6.1" height="6.1"/><rect x="174.82" y="487.75" width="6.1" height="6.1"/><rect x="187.81" y="489.95" width="6.1" height="6.1"/><rect x="200.8" y="486.65" width="6.1" height="6.1"/><rect x="213.79" y="484.55" width="6.1" height="6.1"/></g>
</g>
<g>
<g stroke="#000" stroke-width="1.6" fill="none" stroke-linecap="butt">
<path d="M306.3 416.7V554.7H501.9"/>
<path d="M306.3 554.7v3.9M338.8 554.7v3.9M371.3 554.7v3.9M403.8 554.7v3.9M436.3 554.7v3.9M468.8 554.7v3.9M501.3 554.7v3.9M306.3 554.7h-3.9M306.3 508.9h-3.9M306.3 463.1h-3.9M306.3 417.3h-3.9"/>
</g>
<g font-family='"Liberation Sans", Arial, Helvetica, sans-serif' font-weight="bold" font-size="11.5" fill="#000" stroke="#000" stroke-width="0.25">
<g text-anchor="middle">
<text x="306.3" y="578.65">0</text>
<text x="338.8" y="578.65">10</text>
<text x="371.3" y="578.65">20</text>
<text x="403.8" y="578.65">30</text>
<text x="436.3" y="578.65">40</text>
<text x="468.8" y="578.65">50</text>
<text x="501.3" y="578.65">60</text>
</g>
<g text-anchor="end">
<text x="296.8" y="558.7">0</text>
<text x="296.8" y="512.73">10</text>
<text x="296.8" y="466.77">20</text>
<text x="296.8" y="420.8">30</text>
</g>
</g>
<text x="326" y="600.2" font-family='"Liberation Sans", Arial, Helvetica, sans-serif' font-weight="bold" font-size="12" stroke="#000" stroke-width="0.2" textLength="147.2" lengthAdjust="spacingAndGlyphs">re-wetting period [weeks]</text>
<text x="264.6" y="423" font-family='"Liberation Sans", Arial, Helvetica, sans-serif' font-weight="bold" font-size="16.4" stroke="#000" stroke-width="0.2">f)</text>
<text transform="translate(274.8 487.6) rotate(-90)" text-anchor="middle" font-family='"Liberation Sans", Arial, Helvetica, sans-serif' font-weight="bold" font-size="12" stroke="#000" stroke-width="0.2">DIC [mM]</text>
<path d="M390.8 443.3V491.9M390.8 508V530.7M332.3 527.5V552.3M338.8 463.8V475.7M364.8 429.3V439M377.8 449.8V458.4M416.8 439V469.7M429.8 422.3V451.4M442.8 424.4V442.1M455.8 419.7V429.8M468.8 413.6V427.6M481.8 424.4V443.8M429.8 456.8V467.6M442.8 446V457.8M455.8 450.3V467.6M468.8 455.7V469.3M455.8 485.9V493.9M312.8 544V553" stroke="#000" stroke-width="1.35" fill="none"/>
<path d="M319.3 487.1C323.2 488.21 328.25 490.76 332.3 490.8C342.1 490.91 357.21 493.79 364.8 487.6C373.24 480.72 371.5 462.59 377.8 453.7C380.11 450.44 386.82 451.24 390.8 450.9C394.69 450.57 400.14 450.14 403.8 451.5C408.26 453.16 412.4 458.79 416.8 460.6C420.43 462.1 426.08 463.46 429.8 462.2C434.53 460.6 437.86 452.5 442.8 451.8C447.14 451.18 451.73 456.87 455.8 458.5C459.56 460.01 464.9 461.09 468.8 462.2" stroke="#000" stroke-width="1.25" fill="none" stroke-dasharray="1.9 2.6"/>
<g fill="#000"><circle cx="319.3" cy="487.1" r="3.2"/><circle cx="332.3" cy="490.8" r="3.2"/><circle cx="364.8" cy="487.6" r="3.2"/><circle cx="377.8" cy="453.7" r="3.2"/><circle cx="390.8" cy="450.9" r="3.2"/><circle cx="403.8" cy="451.5" r="3.2"/><circle cx="416.8" cy="460.6" r="3.2"/><circle cx="429.8" cy="462.2" r="3.2"/><circle cx="442.8" cy="451.8" r="3.2"/><circle cx="455.8" cy="458.5" r="3.2"/><circle cx="468.8" cy="462.2" r="3.2"/></g>
<path d="M306.3 552.3C308.25 551.64 310.85 550.75 312.8 550.1C314.75 549.46 317.26 548.23 319.3 548C321.25 547.78 323.85 548.38 325.8 548.6C327.76 548.83 330.33 549.5 332.3 549.5C334.27 549.5 336.83 548.69 338.8 548.6C342.7 548.42 347.9 548.47 351.8 548.6C355.71 548.74 360.9 549.17 364.8 549.5C368.71 549.83 373.89 550.6 377.8 550.8C381.7 550.99 386.9 550.8 390.8 550.8C394.7 550.8 399.9 550.77 403.8 550.8C407.7 550.83 412.9 550.97 416.8 551C420.7 551.03 425.9 550.97 429.8 551C433.7 551.03 438.9 551.17 442.8 551.2C446.7 551.23 451.9 551.2 455.8 551.2C459.7 551.2 464.9 551.2 468.8 551.2C472.7 551.2 477.9 551.2 481.8 551.2" stroke="#000" stroke-width="1.15" fill="none" stroke-linejoin="round"/>
<g fill="#000"><path d="M306.3 548.5L309.8 555.3L302.8 555.3Z"/><path d="M312.8 546.3L316.3 553.1L309.3 553.1Z"/><path d="M319.3 544.2L322.8 551L315.8 551Z"/><path d="M325.8 544.8L329.3 551.6L322.3 551.6Z"/><path d="M332.3 545.7L335.8 552.5L328.8 552.5Z"/><path d="M338.8 544.8L342.3 551.6L335.3 551.6Z"/><path d="M351.8 544.8L355.3 551.6L348.3 551.6Z"/><path d="M364.8 545.7L368.3 552.5L361.3 552.5Z"/><path d="M377.8 547L381.3 553.8L374.3 553.8Z"/><path d="M390.8 547L394.3 553.8L387.3 553.8Z"/><path d="M403.8 547L407.3 553.8L400.3 553.8Z"/><path d="M416.8 547.2L420.3 554L413.3 554Z"/><path d="M429.8 547.2L433.3 554L426.3 554Z"/><path d="M442.8 547.4L446.3 554.2L439.3 554.2Z"/><path d="M455.8 547.4L459.3 554.2L452.3 554.2Z"/><path d="M468.8 547.4L472.3 554.2L465.3 554.2Z"/><path d="M481.8 547.4L485.3 554.2L478.3 554.2Z"/></g>
<path d="M306.3 548.4C308.25 547.95 311.26 548.18 312.8 546.9C315.42 544.72 316.85 539.96 319.3 537.6C320.87 536.09 323.68 533.94 325.8 534.4C328.39 534.96 329.77 541.2 332.3 540.4C335.74 539.32 335.77 532.24 338.8 530.3C342.14 528.16 347.89 528.55 351.8 527.9C355.69 527.26 361.1 527.35 364.8 526C369.04 524.45 373.4 519.43 377.8 518.4C381.62 517.5 387.01 520.91 390.8 519.9C395.29 518.71 400.24 514.48 403.8 511.5C408.08 507.92 412.22 501.39 416.8 498.2C420.21 495.82 425.69 494.05 429.8 493.4C433.66 492.79 438.92 494.58 442.8 494.1C446.84 493.6 451.92 491.42 455.8 490.2C459.72 488.96 464.72 485.4 468.8 485.9C473.27 486.45 477.9 491.15 481.8 493.4" stroke="#000" stroke-width="1.15" fill="none" stroke-linejoin="round"/>
<g fill="#000"><path d="M306.3 545L309.7 548.4L306.3 551.8L302.9 548.4Z"/><path d="M312.8 543.5L316.2 546.9L312.8 550.3L309.4 546.9Z"/><path d="M319.3 534.2L322.7 537.6L319.3 541L315.9 537.6Z"/><path d="M325.8 531L329.2 534.4L325.8 537.8L322.4 534.4Z"/><path d="M332.3 537L335.7 540.4L332.3 543.8L328.9 540.4Z"/><path d="M338.8 526.9L342.2 530.3L338.8 533.7L335.4 530.3Z"/><path d="M351.8 524.5L355.2 527.9L351.8 531.3L348.4 527.9Z"/><path d="M364.8 522.6L368.2 526L364.8 529.4L361.4 526Z"/><path d="M377.8 515L381.2 518.4L377.8 521.8L374.4 518.4Z"/><path d="M390.8 516.5L394.2 519.9L390.8 523.3L387.4 519.9Z"/><path d="M403.8 508.1L407.2 511.5L403.8 514.9L400.4 511.5Z"/><path d="M416.8 494.8L420.2 498.2L416.8 501.6L413.4 498.2Z"/><path d="M429.8 490L433.2 493.4L429.8 496.8L426.4 493.4Z"/><path d="M442.8 490.7L446.2 494.1L442.8 497.5L439.4 494.1Z"/><path d="M455.8 486.8L459.2 490.2L455.8 493.6L452.4 490.2Z"/><path d="M468.8 482.5L472.2 485.9L468.8 489.3L465.4 485.9Z"/><path d="M481.8 490L485.2 493.4L481.8 496.8L478.4 493.4Z"/></g>
<path d="M306.3 541.5C308.25 536.97 310.93 530.96 312.8 526.4C314.83 521.45 317.09 514.67 319.3 509.8C321 506.05 324.25 501.52 325.8 497.7C328.16 491.88 329.66 483.5 332.3 477.8C333.61 474.97 336.89 472.16 338.8 469.7C342.74 464.6 347.99 457.79 351.8 452.6C355.79 447.17 359.04 437.78 364.8 434.3C368.2 432.24 375.36 433.76 377.8 436.9C383.96 444.81 385.65 459.09 390.8 467.7C393.6 472.38 399.24 483.38 403.8 480.4C411.94 475.08 411.81 459.05 416.8 450.7C419.72 445.82 425.06 440.04 429.8 436.9C433.16 434.68 439.15 435.2 442.8 433.5C447.05 431.52 451.63 426.95 455.8 424.8C459.49 422.9 464.88 418.76 468.8 420.1C474.14 421.93 477.9 429.62 481.8 433.7" stroke="#000" stroke-width="1.15" fill="none" stroke-linejoin="round"/>
<g fill="#000"><rect x="303.25" y="538.45" width="6.1" height="6.1"/><rect x="309.75" y="523.35" width="6.1" height="6.1"/><rect x="316.25" y="506.75" width="6.1" height="6.1"/><rect x="322.75" y="494.65" width="6.1" height="6.1"/><rect x="329.25" y="474.75" width="6.1" height="6.1"/><rect x="335.75" y="466.65" width="6.1" height="6.1"/><rect x="348.75" y="449.55" width="6.1" height="6.1"/><rect x="361.75" y="431.25" width="6.1" height="6.1"/><rect x="374.75" y="433.85" width="6.1" height="6.1"/><rect x="387.75" y="464.65" width="6.1" height="6.1"/><rect x="400.75" y="477.35" width="6.1" height="6.1"/><rect x="413.75" y="447.65" width="6.1" height="6.1"/><rect x="426.75" y="433.85" width="6.1" height="6.1"/><rect x="439.75" y="430.45" width="6.1" height="6.1"/><rect x="452.75" y="421.75" width="6.1" height="6.1"/><rect x="465.75" y="417.05" width="6.1" height="6.1"/><rect x="478.75" y="430.65" width="6.1" height="6.1"/></g>
</g>
<g>
<rect x="41" y="621.35" width="454.6" height="26.7" fill="#fff" stroke="#000" stroke-width="1.45"/>
<g stroke="#000" stroke-width="1.4" fill="none">
<path d="M52.5 634.9H88.8M159.3 634.9H196.5M294.5 636.5H331.3"/>
<path d="M407.4 637.8H417M432.6 637.8H444.6" stroke-dasharray="1.5 2"/>
</g>
<g fill="#000">
<rect x="66.1" y="631.7" width="6.41" height="6.41"/>
<path d="M176.6 630.48L181.02 634.9L176.6 639.32L172.18 634.9Z"/>
<path d="M311.6 631.76L316.15 640.6L307.05 640.6Z"/>
<circle cx="425.4" cy="637.8" r="5.1"/>
</g>
<g font-family='"Liberation Sans", Arial, Helvetica, sans-serif' font-weight="bold" font-size="12" stroke="#000" stroke-width="0.25">
<text x="100.8" y="640.3" textLength="34.8" lengthAdjust="spacingAndGlyphs">highly</text>
<text x="207" y="641.1" textLength="63.5" lengthAdjust="spacingAndGlyphs">moderately</text>
<text x="337.4" y="641.8" textLength="40.8" lengthAdjust="spacingAndGlyphs">slightly</text>
<text x="452.6" y="641.7" textLength="35.2" lengthAdjust="spacingAndGlyphs">in-situ</text>
</g>
</g>
</svg>
</body></html>
